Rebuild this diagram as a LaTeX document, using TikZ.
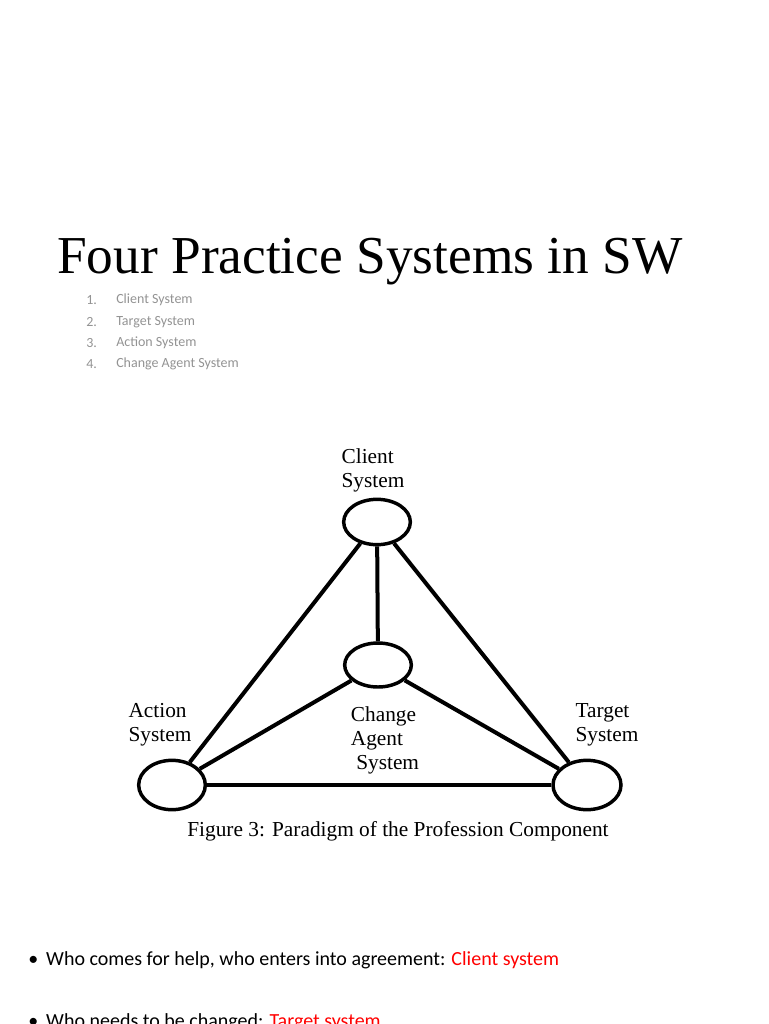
\documentclass[tikz,border=0pt]{standalone}
\usepackage{fontspec}
\usetikzlibrary{shapes.geometric}
\setmainfont{Liberation Serif}
\newfontfamily\calfont{Carlito}
\begin{document}
\begin{tikzpicture}[x=0.75pt,y=-0.75pt,
  lnk/.style={line width=3pt},
  lab/.style={font=\fontsize{16}{18}\selectfont,align=left},
  li/.style={font=\calfont\fontsize{10.5}{12}\selectfont,text=gray!85,anchor=west,inner sep=0},
  bul/.style={font=\calfont\fontsize{15}{18}\selectfont,anchor=west,inner sep=0}]
\useasboundingbox (0,0) rectangle (768,1024);
\clip (0,0) rectangle (768,1024);
\node[anchor=west,inner sep=0,font=\fontsize{40}{44}\selectfont] (title) at (57,262) {Four Practice Systems in SW};
\foreach \n/\t/\y in {1/Client System/300,2/Target System/322,3/Action System/343,4/Change Agent System/364}{
  \node[li] (n\n) at (86,\y) {\n.};
  \node[li] (t\n) at (116,\y) {\t};
}
\node[draw,line width=2.6pt,ellipse,minimum width=50pt,minimum height=34pt] (c) at (377,522) {};
\node[draw,line width=2.6pt,ellipse,minimum width=50pt,minimum height=33pt] (m) at (378,665) {};
\node[draw,line width=2.6pt,ellipse,minimum width=50pt,minimum height=37pt] (a) at (172,785) {};
\node[draw,line width=2.6pt,ellipse,minimum width=51pt,minimum height=37pt] (t) at (587,785) {};
\draw[lnk] (c) -- (a); \draw[lnk] (c) -- (t); \draw[lnk] (c) -- (m);
\draw[lnk] (m) -- (a); \draw[lnk] (m) -- (t); \draw[lnk] (a) -- (t);
\node[lab] (lc) at (373,470) {Client\\System};
\node[lab] (la) at (160,725) {Action\\System};
\node[lab] (lm) at (385,740) {Change\\Agent\\\ System};
\node[lab] (lt) at (607,725) {Target\\System};
\node[font=\fontsize{16}{18}\selectfont,inner sep=0] (cap) at (398,831) {Figure 3: Paradigm of the Profession Component};
\node[bul] (b1) at (28,960) {•\hspace{6pt}Who comes for help, who enters into agreement: \textcolor{red}{Client system}};
\node[bul] (b2) at (28,1022) {•\hspace{6pt}Who needs to be changed: \textcolor{red}{Target system}};
\end{tikzpicture}
\end{document}
